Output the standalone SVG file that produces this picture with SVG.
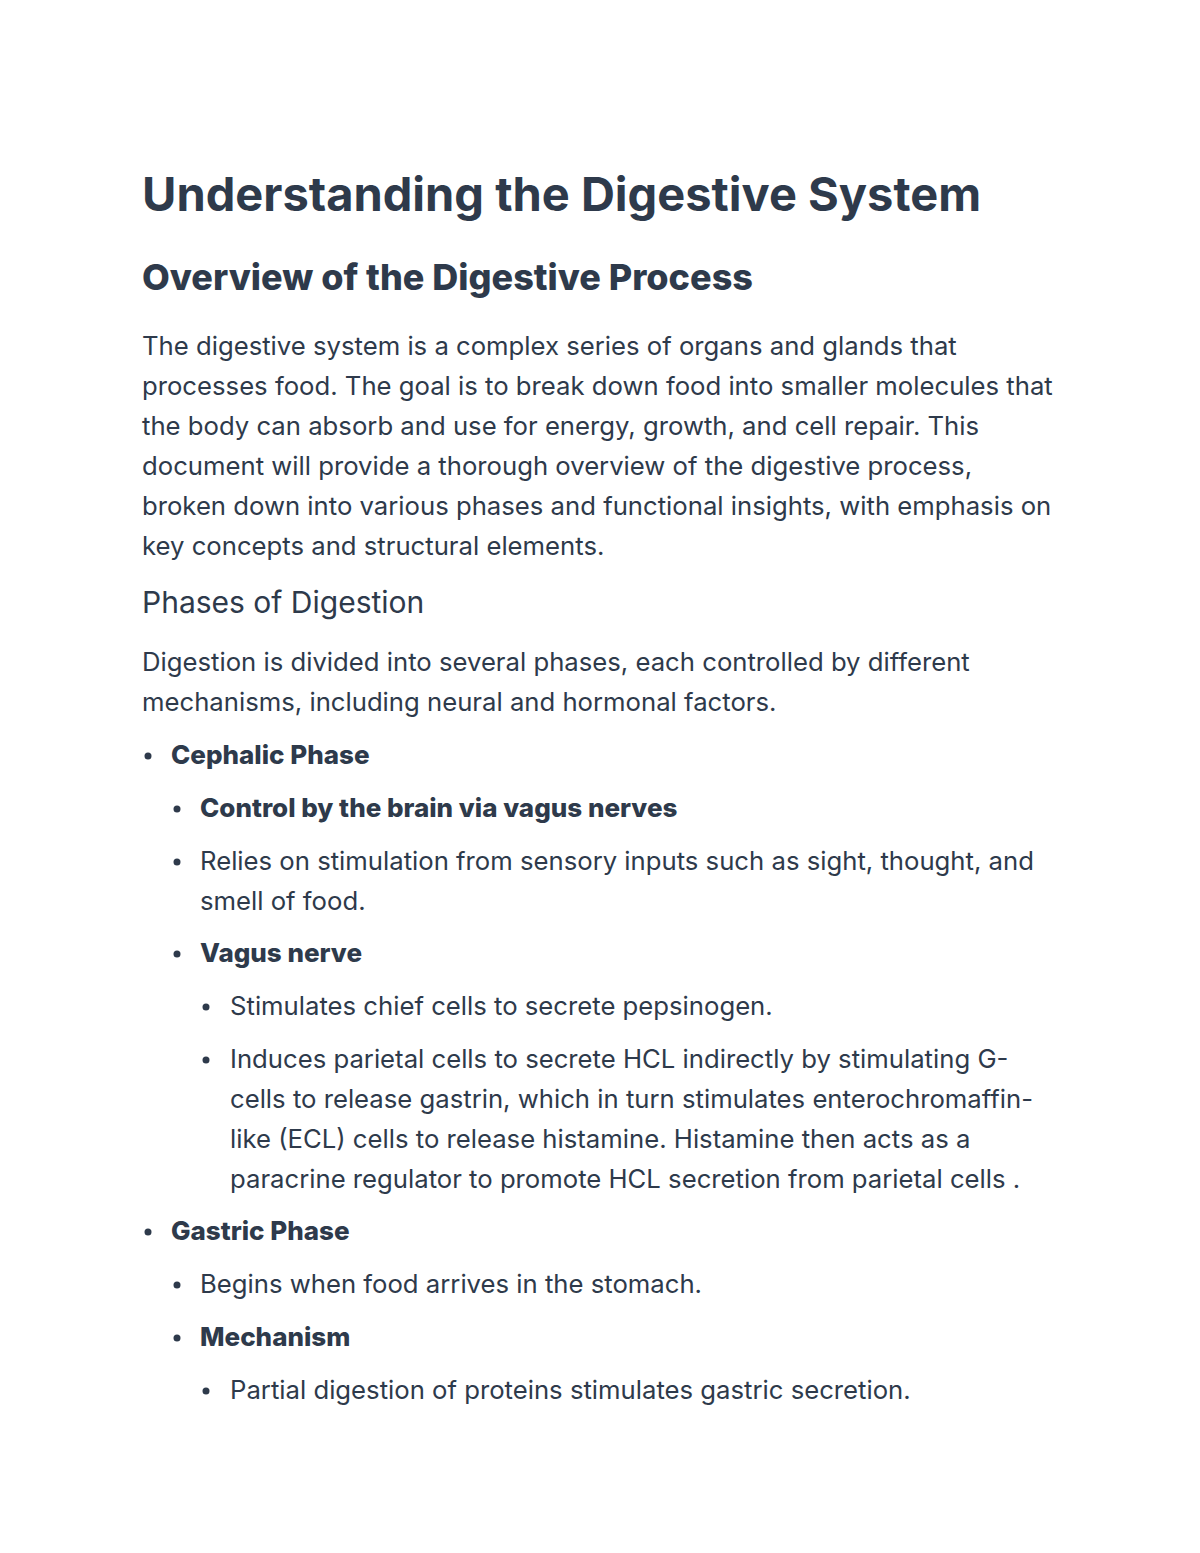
<svg xmlns="http://www.w3.org/2000/svg" width="1200" height="1553" viewBox="0 0 1200 1553">
<style>
text{font-family:Inter,"Noto Sans",sans-serif;fill:#2e3a4b}
.t{font-size:47px;font-weight:700}
.h2{font-size:36px;font-weight:800}
.h3{font-size:30px}
.b{font-size:25.7px}
.bb{font-size:26px;font-weight:800}
circle{fill:#2e3a4b}
</style>
<rect width="1200" height="1553" fill="#fff"/>
<text class="t" x="142" y="211">Understanding the Digestive System</text>
<text class="h2" x="142" y="290">Overview of the Digestive Process</text>
<text class="b" x="142" y="355">The digestive system is a complex series of organs and glands that</text>
<text class="b" x="142" y="395">processes food. The goal is to break down food into smaller molecules that</text>
<text class="b" x="142" y="435">the body can absorb and use for energy, growth, and cell repair. This</text>
<text class="b" x="142" y="475">document will provide a thorough overview of the digestive process,</text>
<text class="b" x="142" y="515">broken down into various phases and functional insights, with emphasis on</text>
<text class="b" x="142" y="555">key concepts and structural elements.</text>
<text class="h3" x="142" y="613">Phases of Digestion</text>
<text class="b" x="142" y="671">Digestion is divided into several phases, each controlled by different</text>
<text class="b" x="142" y="711">mechanisms, including neural and hormonal factors.</text>
<circle cx="148" cy="756" r="3.5"/><text class="bb" x="171" y="764">Cephalic Phase</text>
<circle cx="177" cy="809" r="3.5"/><text class="bb" x="200" y="817">Control by the brain via vagus nerves</text>
<circle cx="177" cy="862" r="3.5"/><text class="b" x="200" y="870">Relies on stimulation from sensory inputs such as sight, thought, and</text>
<text class="b" x="200" y="910">smell of food.</text>
<circle cx="177" cy="954" r="3.5"/><text class="bb" x="200" y="962">Vagus nerve</text>
<circle cx="206" cy="1007" r="3.5"/><text class="b" x="230" y="1015">Stimulates chief cells to secrete pepsinogen.</text>
<circle cx="206" cy="1060" r="3.5"/><text class="b" x="230" y="1068">Induces parietal cells to secrete HCL indirectly by stimulating G-</text>
<text class="b" x="230" y="1108">cells to release gastrin, which in turn stimulates enterochromaffin-</text>
<text class="b" x="230" y="1148">like (ECL) cells to release histamine. Histamine then acts as a</text>
<text class="b" x="230" y="1188">paracrine regulator to promote HCL secretion from parietal cells .</text>
<circle cx="148" cy="1232" r="3.5"/><text class="bb" x="171" y="1240">Gastric Phase</text>
<circle cx="177" cy="1285" r="3.5"/><text class="b" x="200" y="1293">Begins when food arrives in the stomach.</text>
<circle cx="177" cy="1338" r="3.5"/><text class="bb" x="200" y="1346">Mechanism</text>
<circle cx="206" cy="1391" r="3.5"/><text class="b" x="230" y="1399">Partial digestion of proteins stimulates gastric secretion.</text>
</svg>
